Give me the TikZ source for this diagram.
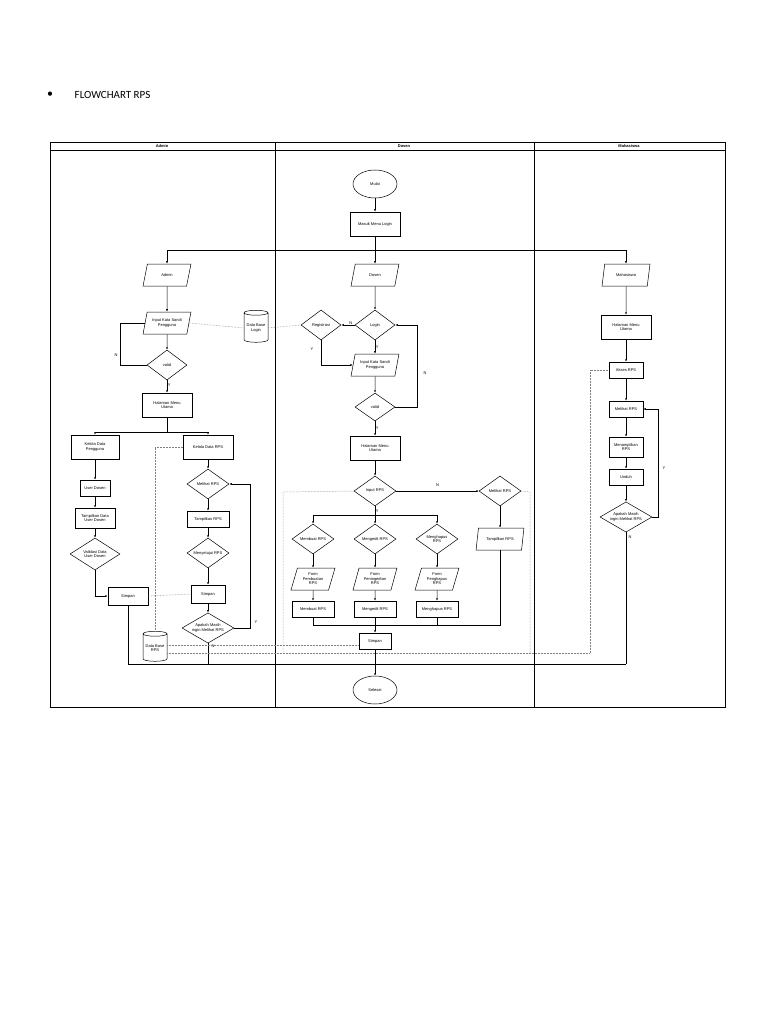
\documentclass[tikz,border=0pt]{standalone}
\usepackage{fontspec}
\setmainfont{Carlito}
\newfontfamily\lab{Liberation Sans}
\usetikzlibrary{shapes.geometric,arrows.meta}
\begin{document}
\begin{tikzpicture}[x=1pt,y=-1pt,
  every node/.style={font=\lab\fontsize{4}{4.6}\selectfont,align=center,inner sep=0.5pt},
  box/.style={draw,line width=0.5pt,minimum width=#1,minimum height=16},
  box/.default=40,
  io/.style={draw,line width=0.5pt,trapezium,trapezium left angle=72,trapezium right angle=108,minimum width=#1,minimum height=22,trapezium stretches=true,inner xsep=0pt},
  io/.default=40,
  dec/.style={draw,line width=0.5pt,diamond,aspect=1.45,minimum width=42,minimum height=30,inner sep=0pt},
  term/.style={draw,line width=0.5pt,ellipse,minimum width=44,minimum height=28},
  db/.style={draw,line width=0.5pt,cylinder,shape border rotate=90,aspect=0.25,minimum width=24,minimum height=32},
  fl/.style={line width=0.5pt,-{Latex[length=2.5pt,width=2pt]}},
  ln/.style={line width=0.5pt},
  dot/.style={line width=0.5pt,densely dotted,gray}]
\useasboundingbox (0,0) rectangle (768,1024);
\fill[white] (0,0) rectangle (768,1024);
\node[font=\fontsize{12}{14}\selectfont] (bul) at (50,95) {•};
\node[font=\fontsize{11}{13}\selectfont,anchor=west] (title) at (74,95) {FLOWCHART RPS};
% frame
\draw[line width=0.6pt] (50,142) rectangle (725,707);
\draw[line width=0.6pt] (50,150) -- (725,150);
\draw[line width=0.8pt] (275,142) -- (275,707) (534,142) -- (534,707);
\node[font=\lab\bfseries\fontsize{4}{4.6}\selectfont] (hA) at (162,146) {Admin};
\node[font=\lab\bfseries\fontsize{4}{4.6}\selectfont] (hD) at (404,146) {Dosen};
\node[font=\lab\bfseries\fontsize{4}{4.6}\selectfont] (hM) at (629,146) {Mahasiswa};
% Dosen top
\node[term] (mulai) at (375,184) {Mulai};
\node[box=50,minimum height=24] (masuk) at (375,224) {Masuk Menu Login};
\coordinate (br) at (375,250);
% Admin
\node[io=48] (admin) at (167,275) {Admin};
\node[io=48] (inA) at (167,323) {Input Kata Sandi\\Pengguna};
\node[dec,minimum width=40] (valA) at (167,365) {valid};
\node[box=50,minimum height=24] (halA) at (167,405) {Halaman Menu\\Utama};
\node[box=48,minimum height=24] (kdp) at (95,447) {Kelola Data\\Pengguna};
\node[box=50,minimum height=24] (krps) at (208,447) {Kelola Data RPS};
\node[box=30] (ud) at (95,488) {User Dosen};
\node[box=40,minimum height=20] (tud) at (95,518) {Tampilkan Data\\User Dosen};
\node[dec,minimum width=50,minimum height=32] (vud) at (95,554) {Validasi Data\\User Dosen};
\node[box=40,minimum height=18] (simA) at (128,596) {Simpan};
\node[dec] (mrA) at (208,484) {Melihat RPS};
\node[box=42] (trA) at (208,519) {Tampilkan RPS};
\node[dec] (msA) at (208,553) {Menyetujui RPS};
\node[box=34,minimum height=18] (simB) at (208,594) {Simpan};
\node[dec,minimum width=52] (apA) at (208,628) {Apakah Masih\\ingin Melihat RPS};
\node[db,minimum height=30] (dbr) at (155,648) {Data Base\\RPS};
\node[db] (dbl) at (256,328) {Data Base\\Login};
% Dosen
\node[io=48] (dosen) at (375,275) {Dosen};
\node[dec,minimum width=40] (login) at (375,325) {Login};
\node[dec,minimum width=40] (reg) at (321,325) {Registrasi};
\node[io=48] (inD) at (375,365) {Input Kata Sandi\\Pengguna};
\node[dec,minimum width=40,minimum height=28] (valD) at (375,407) {valid};
\node[box=50,minimum height=24] (halD) at (375,448) {Halaman Menu\\Utama};
\node[dec] (irps) at (375,491) {Input RPS};
\node[dec] (mrD) at (500,491) {Melihat RPS};
\node[dec] (mb) at (313,539) {Membuat RPS};
\node[dec] (me) at (375,539) {Mengedit RPS};
\node[dec] (mh) at (437,539) {Menghapus\\RPS};
\node[io=48] (tr) at (500,539) {Tampilkan RPS};
\node[io=44] (f1) at (313,579) {Form\\Pembuatan\\RPS};
\node[io=44] (f2) at (375,579) {Form\\Peningedtan\\RPS};
\node[io=44] (f3) at (437,579) {Form\\Penghapus\\RPS};
\node[box=42] (r1) at (313,609) {Membuat RPS};
\node[box=42] (r2) at (375,609) {Mengedit RPS};
\node[box=42] (r3) at (437,609) {Menghapus RPS};
\node[box=32] (simD) at (375,641) {Simpan};
\node[term] (sel) at (375,690) {Selesai};
% Mahasiswa
\node[io=48] (mhs) at (626,275) {Mahasiswa};
\node[box=50,minimum height=24] (halM) at (626,327) {Halaman Menu\\Utama};
\node[box=34] (akses) at (626,370) {Akses RPS};
\node[box=34] (mrM) at (626,409) {Melihat RPS};
\node[box=34,minimum height=20] (mnp) at (626,447) {Menampilkan\\RPS};
\node[box=34] (unduh) at (626,477) {Unduh};
\node[dec,minimum width=52] (apM) at (626,517) {Apakah Masih\\ingin Melihat RPS};
% connectors
\draw[fl] (mulai) -- (masuk);
\draw[ln] (masuk) -- (br);
\draw[fl] (br) -- (dosen);
\draw[fl] (br) -| (admin);
\draw[fl] (br) -| (mhs);
\draw[fl] (admin) -- (inA);
\draw[fl] (inA) -- (valA);
\draw[ln] (valA.west) -| (120,323) -- (inA.west);
\draw[fl] (valA) -- node[right,pos=0.4]{Y} (halA);
\node (nA) at (116,355) {N};
\draw[ln] (halA) -- (167,432);
\draw[fl] (167,432) -| (kdp);
\draw[fl] (167,432) -| (krps);
\draw[fl] (kdp) -- (ud);
\draw[fl] (ud) -- (tud);
\draw[fl] (tud) -- (vud);
\draw[fl] (vud.south) |- (simA.west);
\draw[fl] (krps) -- (mrA);
\draw[fl] (mrA) -- (trA);
\draw[fl] (trA) -- (msA);
\draw[fl] (msA) -- (simB);
\draw[fl] (simB) -- (apA);
\draw[fl] (apA.east) -| (250,484) -- (mrA.east);
\node (yA) at (256,622) {Y};
\draw[ln] (apA.south) -- (208,664);
\node (nA2) at (213,646) {N};
\draw[ln] (simA.south) -- (128,664) -- (626,664);
\draw[dot] (krps.west) -| (dbr.top);
\draw[dot] (simA.east) -- (simB.west);
\draw[dot] (dbr.east |- 0,645) -- (simD.west |- 0,645);
\draw[dot] (dbr.east |- 0,653) -- (590,653) |- (akses.west);
\draw[dot] (283,653) -- (283,492) -- (irps.west);
\draw[dot] (irps.east) -- (mrD.west);
\draw[dot] (mrD.east) -- (530,492) -- (530,653);
\draw[dot] (inA.east) -- (dbl.west);
\draw[dot] (dbl.east) -- (reg.west);
% dosen flow
\draw[fl] (dosen) -- (login);
\draw[fl] (login) -- node[above,pos=0.3]{N} (reg);
\draw[fl] (login) -- node[right,pos=0.5]{Y} (inD);
\draw[fl] (reg.south) |- (inD.west);
\node (yR) at (312,349) {Y};
\draw[fl] (inD) -- (valD);
\draw[fl] (valD.east) -| (417,325) -- (login.east);
\node (nD) at (425,373) {N};
\draw[fl] (valD) -- node[right]{Y} (halD);
\draw[fl] (halD) -- (irps);
\draw[fl] (irps) -- node[above=4pt]{N} (mrD);
\draw[ln] (irps) -- node[right,pos=0.5]{Y} (375,515);
\draw[fl] (375,515) -| (mb);
\draw[fl] (375,515) -- (me);
\draw[fl] (375,515) -| (mh);
\draw[fl] (mrD) -- (tr);
\draw[fl] (mb) -- (f1);
\draw[fl] (me) -- (f2);
\draw[fl] (mh) -- (f3);
\draw[fl] (f1) -- (r1);
\draw[fl] (f2) -- (r2);
\draw[fl] (f3) -- (r3);
\draw[ln] (r1.south) |- (tr.south |- 0,625) -- (tr.south);
\draw[ln] (r3.south) -- (437,625);
\draw[fl] (r2) -- (simD);
\draw[fl] (simD) -- (sel);
% mahasiswa flow
\draw[fl] (mhs) -- (halM);
\draw[fl] (halM) -- (akses);
\draw[fl] (akses) -- (mrM);
\draw[fl] (mrM) -- (mnp);
\draw[fl] (mnp) -- (unduh);
\draw[fl] (unduh) -- (apM);
\draw[fl] (apM.east) -| (658,409) -- (mrM.east);
\node (yM) at (664,468) {Y};
\draw[ln] (apM.south) -- (626,664);
\node (nM) at (630,537) {N};
\end{tikzpicture}
\end{document}
